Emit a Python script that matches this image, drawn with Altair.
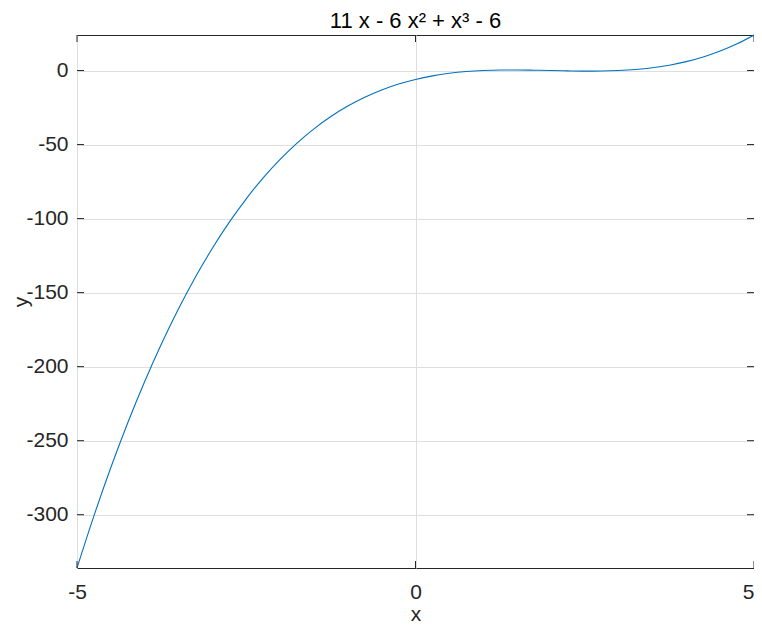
import altair as alt
import pandas as pd

# sampled readings of the curve
xs = [-5, -4.75, -4.5, -4.25, -4, -3.75, -3.5, -3.25, -3, -2.75, -2.5, -2.25, -2, -1.75, -1.5, -1.25,
      -1, -0.75, -0.5, -0.25, 0, 0.25, 0.5, 0.75, 1, 1.25, 1.5, 1.75, 2, 2.25, 2.5, 2.75, 3, 3.25,
      3.5, 3.75, 4, 4.25, 4.5, 4.75, 5]
ys = [-336, -300.8, -268.13, -237.89, -210, -184.36, -160.88, -139.45, -120, -102.42, -86.63, -72.52,
      -60, -48.98, -39.38, -31.08, -24, -18.05, -13.13, -9.14, -6, -3.61, -1.88, -0.7, 0, 0.33,
      0.38, 0.23, 0, -0.23, -0.38, -0.33, 0, 0.7, 1.88, 3.61, 6, 9.14, 13.13, 18.05, 24]
x_ticks = [-5, 0, 5]
y_ticks = [-300, -250, -200, -150, -100, -50, 0]
title_text = "11 x - 6 x² + x³ - 6"

df = pd.DataFrame({"x": xs, "y": ys})
xt = pd.DataFrame({"v": x_ticks})
yt = pd.DataFrame({"v": y_ticks})
tt = pd.DataFrame({"t": [title_text]})

FONT = "Liberation Sans"
TXT = "#262626"
LBL = "datum.value < 0 ? '-' + abs(datum.value) : '' + datum.value"
FS = 21

xscale = alt.Scale(domain=[-5, 5], nice=False, zero=False)
yscale = alt.Scale(domain=[-336, 24], nice=False, zero=False)

xaxis = alt.Axis(values=x_ticks, grid=True, gridColor="#dedede", tickSize=0,
                 labelFontSize=FS, labelFont=FONT, labelColor=TXT, labelPadding=13,
                 labelAlign={"condition": {"test": "datum.value == 5", "value": "right"},
                             "value": "center"},
                 labelExpr=LBL, domain=False, titleFontSize=FS, titleFont=FONT,
                 titleColor=TXT, titleFontWeight="normal", titleX=338.5, titleY=46,
                 titleBaseline="middle", labelFlush=False, title="x")
yaxis = alt.Axis(values=y_ticks, grid=True, gridColor="#dedede", tickSize=0,
                 labelFontSize=FS, labelFont=FONT, labelColor=TXT, labelPadding=9,
                 labelExpr=LBL, domain=False, titleFontSize=FS, titleFont=FONT,
                 titleColor=TXT, titleFontWeight="normal", titleX=-56, titleY=266.5,
                 titleBaseline="middle", titleAngle=270, labelFlush=False, title="y")

line = alt.Chart(df).mark_line(color="#0072BD", strokeWidth=1.1, interpolate="monotone").encode(
    x=alt.X("x:Q", scale=xscale, axis=xaxis),
    y=alt.Y("y:Q", scale=yscale, axis=yaxis),
)

tick_color = "#262626"
yt_left = alt.Chart(yt).mark_rule(color=tick_color, strokeWidth=1).encode(
    y=alt.Y("v:Q", scale=yscale, axis=yaxis), x=alt.value(0), x2=alt.value(7))
yt_right = alt.Chart(yt).mark_rule(color=tick_color, strokeWidth=1).encode(
    y=alt.Y("v:Q", scale=yscale, axis=yaxis), x=alt.value(670), x2=alt.value(677))
xt_bot = alt.Chart(xt).mark_rule(color=tick_color, strokeWidth=1).encode(
    x=alt.X("v:Q", scale=xscale, axis=xaxis), y=alt.value(526), y2=alt.value(533))
xt_top = alt.Chart(xt).mark_rule(color=tick_color, strokeWidth=1).encode(
    x=alt.X("v:Q", scale=xscale, axis=xaxis), y=alt.value(0), y2=alt.value(7))

title = alt.Chart(tt).mark_text(fontSize=22, font=FONT, color="black", align="center",
                                baseline="alphabetic").encode(
    text="t:N", x=alt.value(338.5), y=alt.value(-7))

chart = alt.layer(line, yt_left, yt_right, xt_bot, xt_top, title).properties(
    width=677, height=533,
    autosize=alt.AutoSizeParams(type="none"),
    padding={"left": 69, "top": 27, "right": 0, "bottom": 56},
    background="white",
).configure_view(stroke="#262626", strokeWidth=1)

chart.save("out.html", embed_options={"renderer": "svg", "actions": False})
